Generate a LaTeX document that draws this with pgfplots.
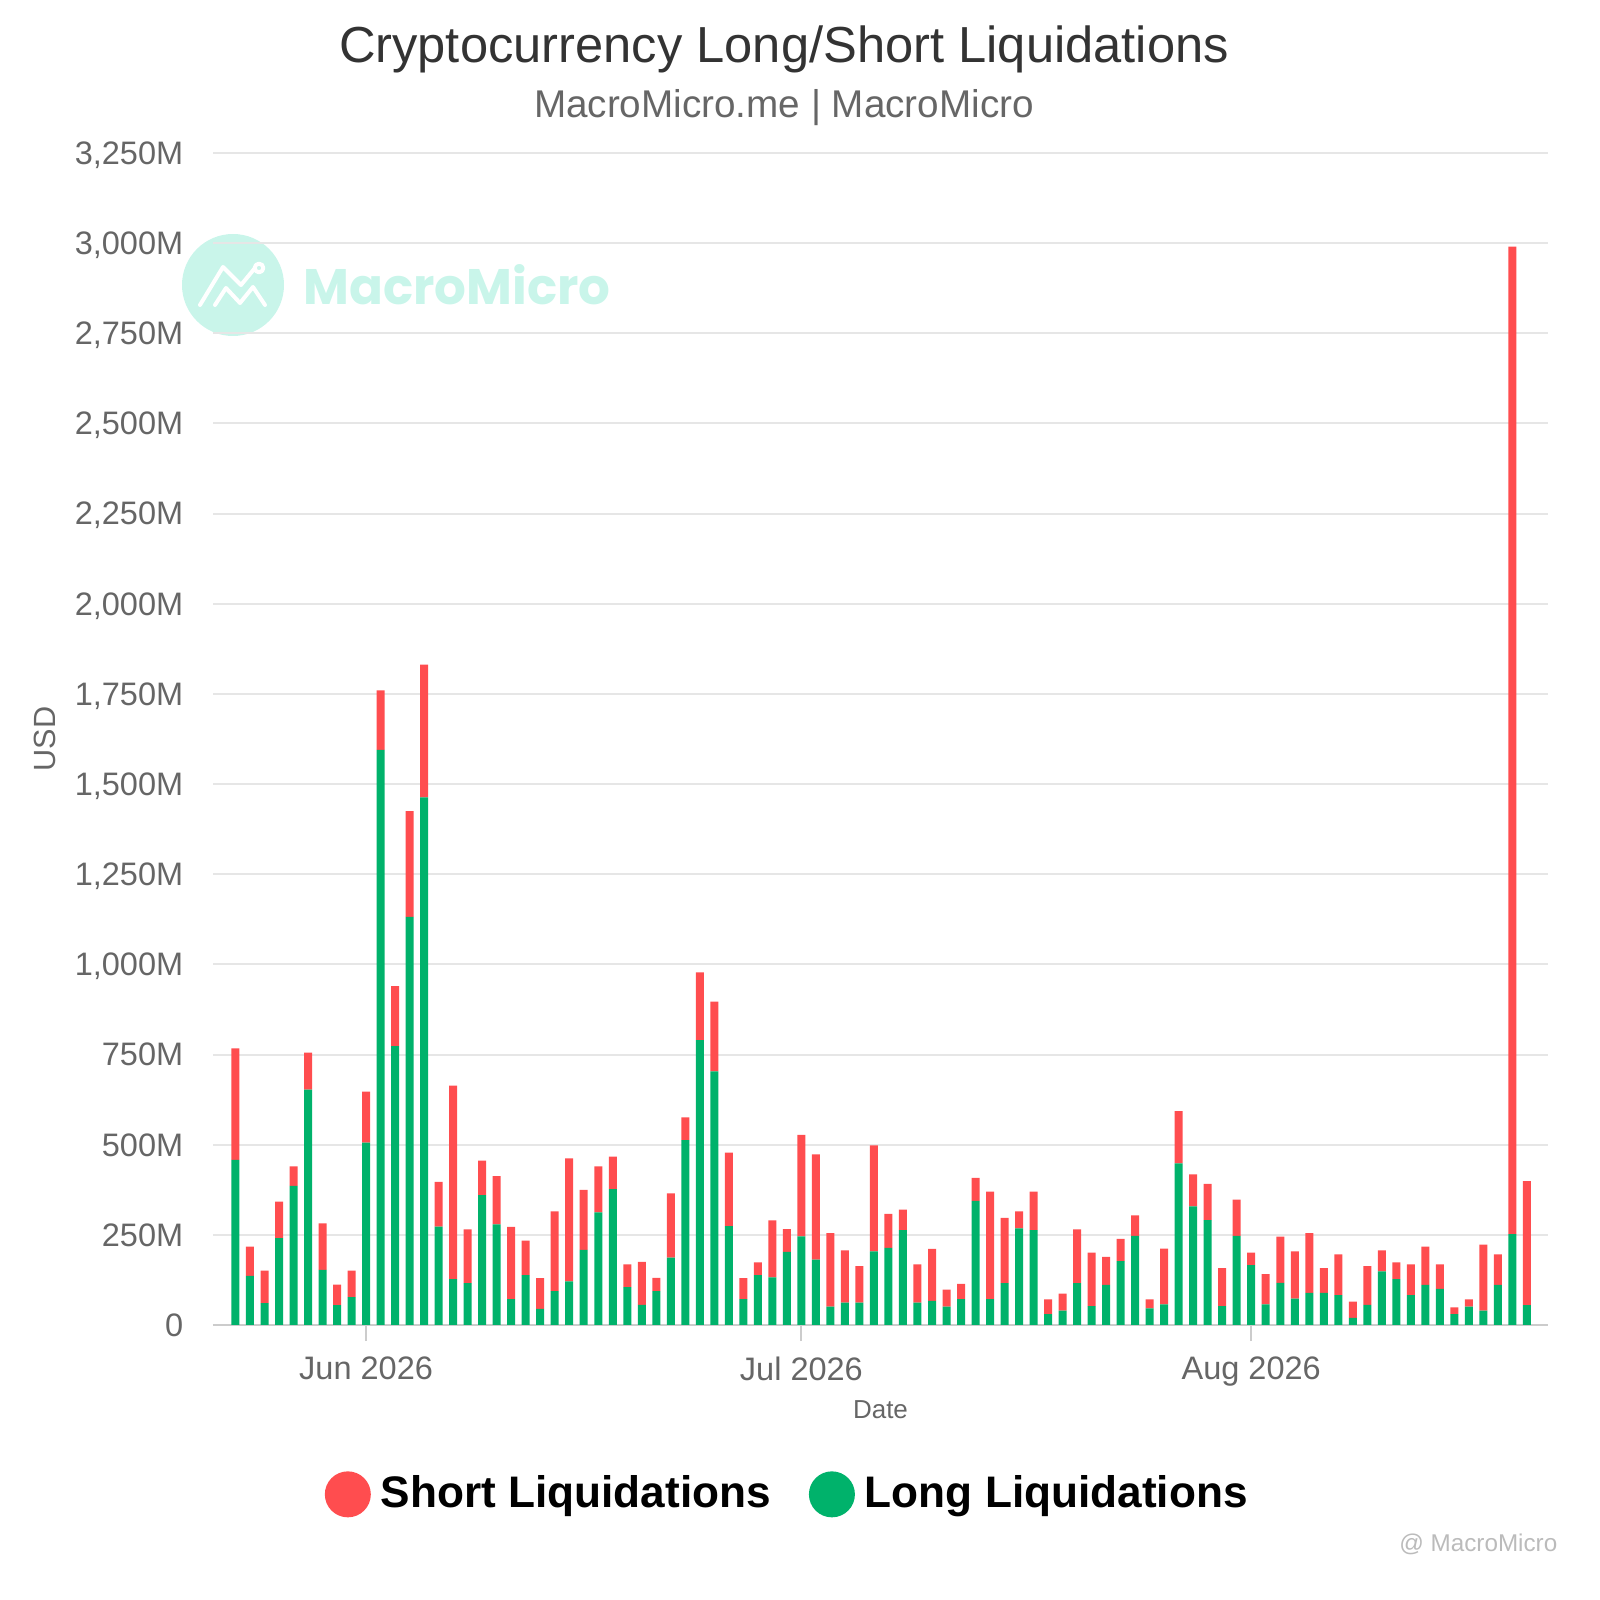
\documentclass[border=0pt]{standalone}
\usepackage{fontspec}
\setmainfont{Liberation Sans}
\newfontfamily\wmfont{Poppins}
\usepackage{pgfplots}
\pgfplotsset{compat=1.18}
\usepackage{pgfplotstable}
\usepackage{graphicx}
\definecolor{shortred}{HTML}{FF4D4F}
\definecolor{longgreen}{HTML}{00B26B}
\definecolor{gridgray}{HTML}{E6E6E6}
\definecolor{axisgray}{HTML}{CCCCCC}
\definecolor{labelgray}{HTML}{666666}
\definecolor{titlegray}{HTML}{333333}
\definecolor{mint}{HTML}{C9F5EA}
\definecolor{creditgray}{HTML}{BBBBBB}

\pgfplotstableread{
x long short
1 458 309
2 136 81
3 61 90
4 241 101
5 386 54
6 653 102
7 153 129
8 55 57
9 77 74
10 506 141
11 1595 165
12 773 167
13 1132 293
14 1463 368
15 273 124
16 127 537
17 116 149
18 360 96
19 279 134
20 72 200
21 138 96
22 45 85
23 94 221
24 121 341
25 208 167
26 312 128
27 377 90
28 105 63
29 56 119
30 94 37
31 187 178
32 513 63
33 790 188
34 703 194
35 274 204
36 72 58
37 138 36
38 132 158
39 203 63
40 246 281
41 181 292
42 51 204
43 62 145
44 62 101
45 204 294
46 214 94
47 263 57
48 62 106
49 67 144
50 51 47
51 72 42
52 344 64
53 72 298
54 116 181
55 268 47
56 263 107
57 30 41
58 40 47
59 116 149
60 52 149
61 111 78
62 177 62
63 247 57
64 46 25
65 57 155
66 448 145
67 329 89
68 291 100
69 52 106
70 247 101
71 166 35
72 57 84
73 117 128
74 73 131
75 89 166
76 89 69
77 83 113
78 20 45
79 56 107
80 149 58
81 127 47
82 83 85
83 111 106
84 100 68
85 30 19
86 51 20
87 40 183
88 111 85
89 252 2738
90 55 344
}\liqdata

\begin{document}
\begin{tikzpicture}
% watermark logo
\fill[mint] (69.9pt,394.5pt) circle (15.3pt);
\begin{scope}[shift={(69.9pt,394.5pt)}, line width=1.2pt, draw=white, line cap=round, line join=round]
\draw (-9.9pt,-6pt) -- (-3pt,5.4pt) -- (2.4pt,0pt) -- (6.6pt,5.1pt);
\draw (7.8pt,5.1pt) circle (1.3pt);
\draw (-5.4pt,-6pt) -- (-2.1pt,-0.9pt) -- (2.1pt,-5.4pt) -- (6pt,-0.6pt) -- (9.6pt,-6pt);
\end{scope}
\node[anchor=west, text=mint, inner sep=0pt] at (90.9pt,394.5pt) {\resizebox{92.1pt}{!}{\wmfont\bfseries MacroMicro}};

\begin{axis}[
  at={(63.9pt,82.5pt)}, anchor=south west,
  scale only axis, width=400.5pt, height=351.6pt,
  xmin=-0.55, xmax=91.45, ymin=0, ymax=3250,
  ybar stacked, bar width=2.4pt,
  axis lines*=left,
  y axis line style={draw=none},
  x axis line style={draw=axisgray, line width=0.6pt},
  ymajorgrids, major grid style={draw=gridgray, line width=0.6pt},
  ytick={0,250,500,750,1000,1250,1500,1750,2000,2250,2500,2750,3000,3250},
  yticklabels={0,250M,500M,750M,{1,000M},{1,250M},{1,500M},{1,750M},{2,000M},{2,250M},{2,500M},{2,750M},{3,000M},{3,250M}},
  xtick={10,40,71},
  xticklabels={Jun 2026,Jul 2026,Aug 2026},
  tick align=outside,
  major tick length=4.8pt,
  xtick style={draw=axisgray, line width=0.6pt},
  ytick style={draw=none},
  ticklabel style={font=\fontsize{9.75}{11}\selectfont, text=labelgray},
  yticklabel style={text depth=0pt, xshift=-0.6pt},
  xticklabel style={yshift=-1.3pt},
  xlabel={Date}, ylabel={USD},
  every axis x label/.style={at={(axis description cs:0.5,0)}, anchor=center, yshift=-25.5pt, font=\fontsize{7.8}{9}\selectfont, text=labelgray},
  every axis y label/.style={at={(axis description cs:0,0.5)}, anchor=center, xshift=-50.4pt, rotate=90, font=\fontsize{9.2}{11}\selectfont, text=labelgray},
  /pgf/number format/assume math mode=true,
  legend style={at={(axis description cs:0.4319,-0.1445)}, anchor=center, draw=none, fill=none, legend columns=2,
    font=\fontsize{13.25}{15}\selectfont\bfseries, text=black,
    /tikz/every odd column/.append style={column sep=1pt},
    /tikz/every even column/.append style={column sep=9.4pt}},
  reverse legend,
]
\addplot[fill=longgreen, draw=none, legend image code/.code={\fill[longgreen] (0pt,0pt) circle (6.9pt);}] table[x=x,y=long]{\liqdata};
\addplot[fill=shortred, draw=none, legend image code/.code={\fill[shortred] (0pt,0pt) circle (6.9pt);}] table[x=x,y=short]{\liqdata};
\legend{Long Liquidations, Short Liquidations}
\end{axis}

\node[anchor=base, text=titlegray, font=\fontsize{15.2}{18}\selectfont] at (235.2pt,461.1pt) {Cryptocurrency Long/Short Liquidations};
\node[anchor=base, text=labelgray, font=\fontsize{11.6}{14}\selectfont] at (235.2pt,444.7pt) {MacroMicro.me | MacroMicro};
\node[anchor=east, text=creditgray, inner sep=0pt] at (467.4pt,16.8pt) {\resizebox{47.4pt}{!}{@ MacroMicro}};
\pgfresetboundingbox
\useasboundingbox (0pt,0pt) rectangle (480pt,480pt);
\end{tikzpicture}
\end{document}
